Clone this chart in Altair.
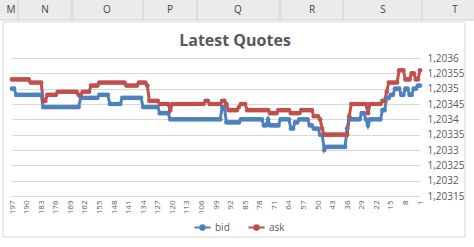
import altair as alt
import numpy as np
import pandas as pd

# ---- data (categories 197 .. 1, left to right) ----
categories = list(range(197, 0, -1))

bid_levels = [1.2035, 1.20348, 1.20344, 1.20347, 1.20348, 1.20345, 1.20347, 1.20344, 1.20342, 1.2034,
              1.20344, 1.20339, 1.2034, 1.20338, 1.2034, 1.20338, 1.2034, 1.20337, 1.20339, 1.2034,
              1.20338, 1.20337, 1.20335, 1.2033, 1.20331, 1.20337, 1.2034, 1.20342, 1.2034, 1.20338,
              1.2034, 1.20343, 1.20347, 1.20348, 1.2035, 1.20348, 1.2035, 1.20348, 1.2035, 1.20351]
bid_runs = [2, 13, 18, 9, 5, 6, 10, 8, 5, 25,
            2, 7, 11, 2, 1, 5, 5, 2, 2, 5,
            2, 3, 2, 1, 10, 1, 6, 2, 1, 1,
            6, 2, 2, 2, 3, 2, 2, 2, 2, 2]

ask_levels = [1.20353, 1.20352, 1.20346, 1.20348, 1.20349, 1.20348, 1.20349, 1.20351, 1.20352, 1.20351,
              1.20352, 1.20351, 1.20346, 1.20345, 1.20343, 1.20345, 1.20346, 1.20345, 1.20346, 1.20345,
              1.20343, 1.20344, 1.20345, 1.20343, 1.20342, 1.20343, 1.20342, 1.20343, 1.20341, 1.2034,
              1.20337, 1.20335, 1.20341, 1.20345, 1.20342, 1.20345, 1.20346, 1.20349, 1.20352, 1.20356,
              1.20353, 1.20353, 1.20355, 1.20353, 1.20356]
ask_runs = [9, 6, 2, 5, 10, 2, 4, 4, 13, 6,
            4, 1, 5, 5, 1, 16, 2, 6, 2, 1,
            5, 1, 3, 11, 4, 6, 5, 6, 3, 1,
            1, 12, 1, 8, 1, 6, 2, 1, 5, 3,
            1, 2, 2, 2, 1]

y_ticks = [1.20315, 1.2032, 1.20325, 1.2033, 1.20335, 1.2034, 1.20345, 1.2035, 1.20355, 1.2036]
series_names = ["bid", "ask"]
series_colors = ["#4F81BD", "#C0504D"]

# spreadsheet column header (decoration of the screenshot)
header_letters = ["M", "N", "O", "P", "Q", "R", "S", "T"]
header_letter_x = [-1, 33, 95, 158, 226, 300, 371, 443]
header_sep_x = [6, 60, 131, 185, 268, 331, 410]

bid = np.repeat(bid_levels, bid_runs)
ask = np.repeat(ask_levels, ask_runs)

df = pd.concat([
    pd.DataFrame({"cat": categories, "value": bid, "series": "bid", "order": range(197)}),
    pd.DataFrame({"cat": categories, "value": ask, "series": "ask", "order": range(197)}),
])

FONT = "Open Sans"
GRAY = "#595959"

x_scale = alt.Scale(type="point", padding=0)
x_enc = alt.X(
    "cat:O",
    sort="descending",
    scale=x_scale,
    axis=alt.Axis(
        title=None, grid=False, ticks=False, domain=False,
        labelAngle=270, labelFontSize=8, labelColor=GRAY, labelFont=FONT,
        labelPadding=4, labelOverlap=False,
        labelExpr="(197 - datum.value) % 7 == 0 ? datum.value : ''",
    ),
)
y_enc = alt.Y(
    "value:Q",
    scale=alt.Scale(domain=[1.20315, 1.2036], zero=False, nice=False),
    axis=alt.Axis(
        orient="right", title=None, values=y_ticks, grid=True, gridColor="#d9d9d9",
        domain=False, ticks=False, labelPadding=7, labelFontSize=10, labelColor=GRAY,
        labelFont=FONT,
        labelExpr="replace(format(datum.value, '.5~f'), '.', ',')",
    ),
)
color_scale = alt.Scale(domain=series_names, range=series_colors)

base = alt.Chart(df)
lines = base.mark_line(strokeWidth=3).encode(
    x=x_enc, y=y_enc,
    color=alt.Color("series:N", scale=color_scale,
                    legend=alt.Legend(
                        title=None, orient="none", direction="horizontal",
                        legendX=181, legendY=160,
                        symbolType="M-1,0L1,0M-0.28,0a0.28,0.28 0 1,0 0.56,0a0.28,0.28 0 1,0 -0.56,0",
                        symbolSize=260, symbolStrokeWidth=2,
                        labelFontSize=10, labelColor=GRAY, labelFont=FONT,
                        columnPadding=14, labelOffset=3,
                    )),
    order="order:Q",
)
points = base.mark_circle(size=22, opacity=1).encode(
    x=x_enc,
    y=y_enc,
    color=alt.Color("series:N", scale=color_scale, legend=None),
)
data_layer = alt.layer(lines, points)

# decoration: spreadsheet header band, separators, letters and chart border
band = alt.Chart(pd.DataFrame({"k": [0]})).mark_rect(color="#ebebeb").encode(
    x=alt.value(-12), x2=alt.value(462), y=alt.value(-58), y2=alt.value(-38)
)
band_line = alt.Chart(pd.DataFrame({"k": [0]})).mark_rule(color="#d0d0d0").encode(
    x=alt.value(-12), x2=alt.value(462), y=alt.value(-38)
)
seps = alt.Chart(pd.DataFrame({"sx": header_sep_x})).mark_rule(color="#cfcfcf").encode(
    x=alt.X("sx:Q", scale=None, axis=None), y=alt.value(-58), y2=alt.value(-38)
)
letters = alt.Chart(pd.DataFrame({"lx": header_letter_x, "letter": header_letters})).mark_text(
    font=FONT, fontSize=10, color="#444444", baseline="middle"
).encode(x=alt.X("lx:Q", scale=None, axis=None), y=alt.value(-48), text="letter:N")
border = alt.Chart(pd.DataFrame({"k": [0]})).mark_rect(
    filled=False, stroke="#d9d9d9", strokeWidth=1
).encode(x=alt.value(-9), x2=alt.value(453), y=alt.value(-36), y2=alt.value(179))

chart = alt.layer(border, band, band_line, seps, letters, data_layer).resolve_scale(
    x="independent"
).properties(
    width=408, height=138,
    autosize=alt.AutoSizeParams(type="none"),
    padding={"left": 12, "top": 58, "right": 54, "bottom": 51},
    background="white",
    title=alt.TitleParams(
        "Latest Quotes", font=FONT, fontSize=16, fontWeight="bold", color=GRAY,
        anchor="middle", offset=0, dx=19, dy=49,
    ),
).configure_view(stroke=None)

chart.save("out.html", embed_options={"renderer": "svg", "actions": False})
